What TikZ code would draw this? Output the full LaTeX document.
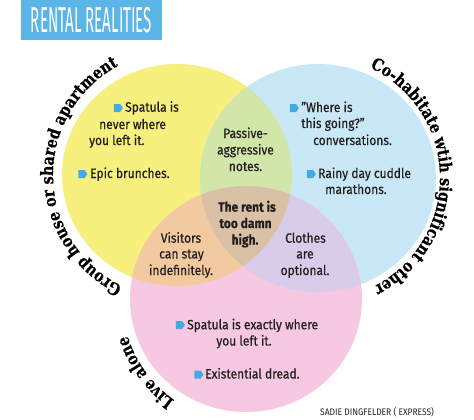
\documentclass[tikz,border=0pt]{standalone}
\usepackage{fontspec}
\setmainfont{Fira Sans}[FakeStretch=0.89, FakeBold=0.5]
\newfontfamily\titlefam{Fira Sans}[FakeStretch=0.42]
\newfontfamily\creditfam{Fira Sans}[FakeStretch=0.89]
\newfontfamily\arcfam{DejaVu Serif}[FakeStretch=0.84, FakeBold=0.4]
\usetikzlibrary{shapes.symbols,decorations.text}
\definecolor{cyel}{HTML}{F7EF7E}
\definecolor{cblue}{HTML}{C9E8F7}
\definecolor{cpink}{HTML}{F6C8E2}
\definecolor{cgreen}{HTML}{D3E6A9}
\definecolor{corange}{HTML}{F3CA9F}
\definecolor{clav}{HTML}{D9CBEA}
\definecolor{ctan}{HTML}{D8C1A4}
\definecolor{bblue}{HTML}{45AAE0}
\definecolor{ctitle}{HTML}{5BB5E6}
\definecolor{ink}{HTML}{231F20}
\newcommand\arcfont{\arcfam\bfseries\fontsize{17}{17}\selectfont}
\begin{document}
\begin{tikzpicture}[x=1pt,y=1pt,
  yel/.style={insert path={(177,-175) ellipse[x radius=115,y radius=111]}},
  blu/.style={insert path={(318,-178) ellipse[x radius=118,y radius=114]}},
  pnk/.style={insert path={(246,-299) ellipse[x radius=116,y radius=113]}},
  txt/.style={font=\fontsize{13.5}{16.5}\selectfont, text=ink, inner sep=0pt},
  btxt/.style={txt, font=\bfseries\fontsize{13.5}{16.5}\selectfont},
  bul/.style={signal, signal to=east, signal pointer angle=110, fill=bblue,
    draw=none, minimum width=9pt, minimum height=8pt, inner sep=0pt},
  arclabel/.style={decorate, decoration={text along path, text align=center,
    text={|\arcfont|#1}}}]
\useasboundingbox (0,0) rectangle (474,-420);
\fill[white] (0,0) rectangle (474,-420);
% title
\node[fill=ctitle, minimum width=141pt, minimum height=40pt, inner sep=0pt,
  text=white, font=\titlefam\fontsize{36}{36}\selectfont] (title) at (91.5,-20) {RENTAL REALITIES};
% circles
\fill[cyel][yel];
\fill[cblue][blu];
\fill[cpink][pnk];
\begin{scope}\clip[yel]; \fill[cgreen][blu]; \end{scope}
\begin{scope}\clip[yel]; \fill[corange][pnk]; \end{scope}
\begin{scope}\clip[blu]; \fill[clav][pnk]; \end{scope}
\begin{scope}\clip[yel]; \clip[blu]; \fill[ctan][pnk]; \end{scope}
% curved labels
\path[arclabel={Group house or shared apartment}]
  (177,-175) ++(275:124) arc[start angle=275, end angle=87, radius=124];
\path[arclabel={Co-habitate wtih significant other}]
  (318,-178) ++(95:122) arc[start angle=95, end angle=-93, radius=122];
\path[arclabel={Live alone}]
  (246,-299) ++(270:124) arc[start angle=270, end angle=162, radius=124];
% yellow texts
\node[bul] (yb1) at (117,-108) {};
\node[txt, anchor=base west] (y1a) at (125,-111.7) {Spatula is};
\node[txt, anchor=base west] (y1b) at (99,-129) {never where};
\node[txt, anchor=base west] (y1c) at (89,-145) {you left it.};
\node[bul] (yb2) at (81.5,-174) {};
\node[txt, anchor=base west] (y2) at (90,-178) {Epic brunches.};
% blue texts
\node[bul] (bb1) at (293,-108) {};
\node[txt, anchor=base west] (b1a) at (301,-112) {"Where is};
\node[txt, anchor=base west] (b1b) at (301,-128) {this going?"};
\node[txt, anchor=base west] (b1c) at (313,-145) {conversations.};
\node[bul] (bb2) at (310,-174) {};
\node[txt, anchor=base west] (b2a) at (318,-178) {Rainy day cuddle};
\node[txt, anchor=base west] (b2b) at (325,-194) {marathons.};
% green
\node[txt, anchor=base] (g1) at (245.5,-138) {Passive-};
\node[txt, anchor=base] (g2) at (245.5,-154.5) {aggressive};
\node[txt, anchor=base] (g3) at (245.5,-171) {notes.};
% centre
\node[btxt, anchor=base] (c1) at (247,-211.7) {The rent is};
\node[btxt, anchor=base] (c2) at (245.5,-228) {too damn};
\node[btxt, anchor=base] (c3) at (245,-244.5) {high.};
% orange
\node[txt, anchor=base] (o1) at (181,-242.7) {Visitors};
\node[txt, anchor=base] (o2) at (181.5,-258.5) {can stay};
\node[txt, anchor=base] (o3) at (181,-275) {indefinitely.};
% lavender
\node[txt, anchor=base] (l1) at (305.5,-242.7) {Clothes};
\node[txt, anchor=base] (l2) at (305,-258.5) {are};
\node[txt, anchor=base] (l3) at (305,-275) {optional.};
% pink
\node[bul] (pb1) at (179,-325) {};
\node[txt, anchor=base west] (p1a) at (187,-329.3) {Spatula is exactly where};
\node[txt, anchor=base] (p1b) at (244,-345.5) {you left it.};
\node[bul] (pb2) at (197.5,-374.5) {};
\node[txt, anchor=base west] (p2) at (205,-378.5) {Existential dread.};
% credit
\node[text=ink, inner sep=0pt, font=\creditfam\fontsize{9.5}{10}\selectfont, anchor=base west] (credit) at (320,-415) {SADIE DINGFELDER ( EXPRESS)};
\end{tikzpicture}
\end{document}
